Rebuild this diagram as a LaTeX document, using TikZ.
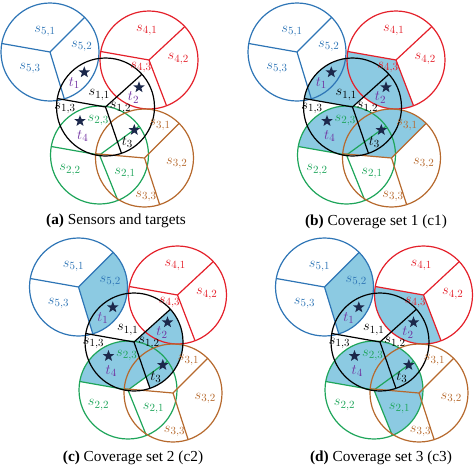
\documentclass[tikz,border=0pt]{standalone}
\usepackage{fontspec}
\setmainfont{Liberation Serif}
\usetikzlibrary{shapes.geometric}
\definecolor{cblue}{RGB}{46,117,182}
\definecolor{cred}{RGB}{228,32,42}
\definecolor{cgreen}{RGB}{30,165,90}
\definecolor{cbrown}{RGB}{182,105,45}
\definecolor{cpurple}{RGB}{112,48,160}
\definecolor{cnavy}{RGB}{28,40,75}
\definecolor{covblue}{RGB}{140,202,226}
\newcommand{\rr}{49}
\tikzset{
  sensorline/.style={line width=1.2pt},
  covfill/.style={fill=covblue},
  lbl/.style={inner sep=0pt, font=\fontsize{15}{15}\selectfont},
  tlbl/.style={inner sep=0pt, text=cpurple, font=\fontsize{15}{15}\selectfont},
  target/.style={star, star points=5, star point ratio=2.4, fill=cnavy, draw=none, inner sep=0pt, minimum size=12pt},
  captext/.style={inner sep=0pt, font=\fontsize{15.3}{16}\selectfont}
}
\newcommand{\covsector}[3]{\fill[covfill] (#1) -- ++(#2:\rr) arc[start angle=#2,end angle=#3,radius=\rr] -- cycle;}
\newcommand{\sensor}[5]{%
  \draw[sensorline,#2] (#1) circle[radius=\rr];
  \draw[sensorline,#2] (#1) -- +(#3:\rr) (#1) -- +(#4:\rr) (#1) -- +(#5:\rr);
}
\newcommand{\covpanel}[4]{%
\begin{scope}[shift={(#2,-#3)}]
  \coordinate (#1c5) at (50,-52);
  \coordinate (#1c4) at (149,-60);
  \coordinate (#1c1) at (105.5,-107);
  \coordinate (#1c2) at (99.5,-155);
  \coordinate (#1c3) at (144.5,-158);
  #4
  \sensor{#1c5}{cblue}{45}{170}{-73}
  \sensor{#1c4}{cred}{43}{170}{-69}
  \sensor{#1c2}{cgreen}{36}{170}{-68}
  \sensor{#1c3}{cbrown}{45}{175}{-72}
  \sensor{#1c1}{black}{42}{170}{-71}
  \node[lbl,text=cblue] (#1s51) at (45,-31.7) {$s_{5,1}$};
  \node[lbl,text=cblue] (#1s52) at (81.7,-46.7) {$s_{5,2}$};
  \node[lbl,text=cblue] (#1s53) at (30,-68.3) {$s_{5,3}$};
  \node[lbl,text=cred] (#1s41) at (146.7,-30.7) {$s_{4,1}$};
  \node[lbl,text=cred] (#1s42) at (178.3,-59) {$s_{4,2}$};
  \node[lbl,text=cred] (#1s43) at (141,-67.3) {$s_{4,3}$};
  \node[lbl,text=black] (#1s11) at (99.3,-95) {$s_{1,1}$};
  \node[lbl,text=black] (#1s12) at (120.5,-108) {$s_{1,2}$};
  \node[lbl,text=black] (#1s13) at (65,-108.3) {$s_{1,3}$};
  \node[lbl,text=cgreen] (#1s23) at (98.3,-120.7) {$s_{2,3}$};
  \node[lbl,text=cgreen] (#1s22) at (70,-170) {$s_{2,2}$};
  \node[lbl,text=cgreen] (#1s21) at (125,-173.3) {$s_{2,1}$};
  \node[lbl,text=cbrown] (#1s31) at (160,-125) {$s_{3,1}$};
  \node[lbl,text=cbrown] (#1s32) at (176.7,-163.3) {$s_{3,2}$};
  \node[lbl,text=cbrown] (#1s33) at (146,-196.7) {$s_{3,3}$};
  \node[target] (#1st1) at (84.3,-72.3) {};
  \node[target] (#1st2) at (139,-87.3) {};
  \node[target] (#1st3) at (134.3,-130) {};
  \node[target] (#1st4) at (80,-121) {};
  \node[tlbl] (#1t1) at (74.3,-83.3) {$t_1$};
  \node[tlbl] (#1t2) at (133.5,-97.5) {$t_2$};
  \node[tlbl,text=black] (#1t3) at (127.3,-142.3) {$t_3$};
  \node[tlbl] (#1t4) at (82.7,-136) {$t_4$};
\end{scope}}
\begin{document}
\begin{tikzpicture}[x=1pt,y=1pt]
\useasboundingbox (0,0) rectangle (474,-467);
\covpanel{a}{0}{0}{}
\covpanel{b}{247}{0}{\covsector{bc1}{42}{170}\covsector{bc4}{170}{291}\covsector{bc2}{36}{170}\covsector{bc3}{45}{175}}
\covpanel{c}{28.5}{235}{\covsector{cc5}{-73}{45}\covsector{cc1}{-71}{42}\covsector{cc2}{36}{170}}
\covpanel{d}{274.5}{235}{\covsector{dc5}{-73}{45}\covsector{dc4}{170}{291}\covsector{dc2}{36}{170}\covsector{dc2}{-68}{36}}
\node[captext] (capa) at (116,-221) {\textbf{(a)} Sensors and targets};
\node[captext] (capb) at (376,-222) {\textbf{(b)} Coverage set 1 (c1)};
\node[captext] (capc) at (133,-458) {\textbf{(c)} Coverage set 2 (c2)};
\node[captext] (capd) at (381,-458) {\textbf{(d)} Coverage set 3 (c3)};
\end{tikzpicture}
\end{document}
